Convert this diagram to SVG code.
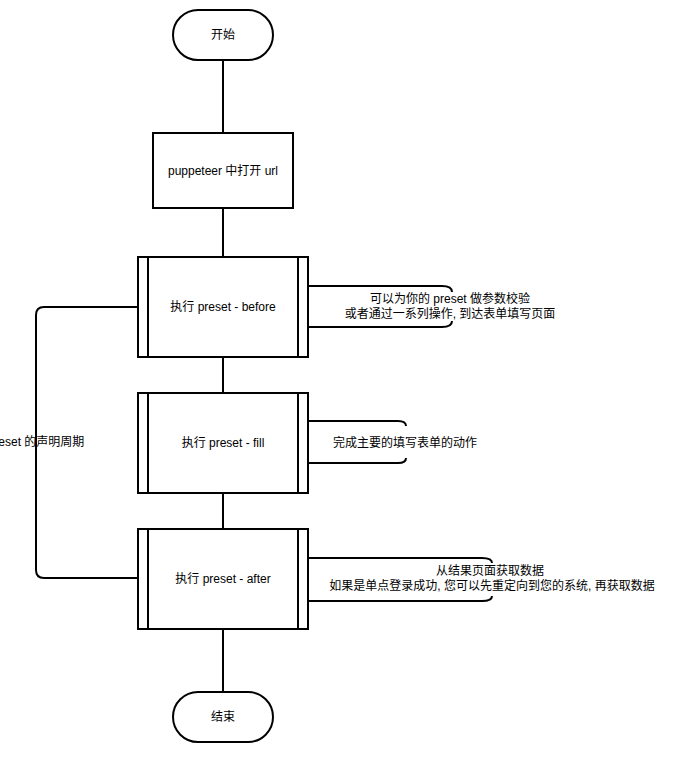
<svg xmlns="http://www.w3.org/2000/svg" width="674" height="760" viewBox="0 0 674 760">
<style>
.s{fill:#fff;stroke:#000;stroke-width:2}
.l{fill:none;stroke:#000;stroke-width:2}
.b{fill:none;stroke:#000;stroke-width:2}
text{font-family:"Liberation Sans","Noto Sans CJK SC",sans-serif;font-size:12px;fill:#000;text-anchor:middle}
</style>
<g id="connectors">
<path class="l" d="M223 60V133M223 208V257M223 357V393M223 493V529M223 629V692"/>
<path class="l" d="M138 307H44Q36 307 36 315V570Q36 578 44 578H138"/>
<path class="b" d="M308 286H442Q452 286 452 292M308 327H442Q452 327 452 321"/>
<path class="b" d="M308 421H398Q406 421 406 426M308 463H398Q406 463 406 458"/>
<path class="b" d="M308 558H482Q492 558 492 563M308 601H482Q492 601 492 596"/>
</g>
<g id="start"><rect class="s" x="173" y="10" width="100" height="50" rx="25"/><text x="223" y="39">开始</text></g>
<g id="open"><rect class="s" x="153" y="133" width="140" height="75"/><text x="223" y="175">puppeteer 中打开 url</text></g>
<g id="before"><rect class="s" x="138" y="257" width="170" height="100"/><path class="l" d="M148 257V357M298 257V357"/><text x="223" y="311">执行 preset - before</text></g>
<g id="fill"><rect class="s" x="138" y="393" width="170" height="100"/><path class="l" d="M148 393V493M298 393V493"/><text x="223" y="447">执行 preset - fill</text></g>
<g id="after"><rect class="s" x="138" y="529" width="170" height="100"/><path class="l" d="M148 529V629M298 529V629"/><text x="223" y="583">执行 preset - after</text></g>
<g id="end"><rect class="s" x="173" y="692" width="100" height="50" rx="25"/><text x="223" y="721">结束</text></g>
<g id="labels">
<text x="36" y="446">preset 的声明周期</text>
<text x="450" y="303">可以为你的 preset 做参数校验</text>
<text x="450" y="318">或者通过一系列操作, 到达表单填写页面</text>
<text x="405" y="447">完成主要的填写表单的动作</text>
<text x="490" y="575">从结果页面获取数据</text>
<text x="492" y="590">如果是单点登录成功, 您可以先重定向到您的系统, 再获取数据</text>
</g>
</svg>
